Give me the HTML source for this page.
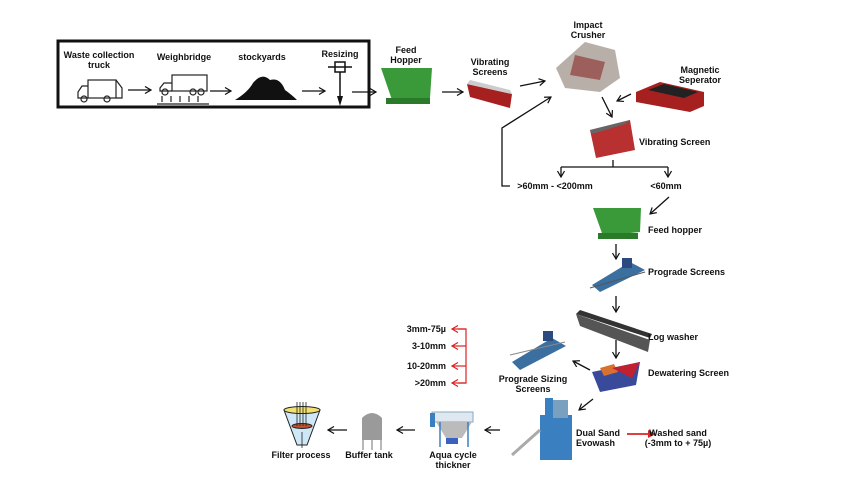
<!DOCTYPE html>
<html><head><meta charset="utf-8"><style>
html,body{margin:0;padding:0;background:#fff;width:850px;height:494px;overflow:hidden}
svg{display:block}
text{font-family:"Liberation Sans",sans-serif;font-weight:bold;font-size:9px;fill:#111}
</style></head><body>
<svg width="850" height="494" viewBox="0 0 850 494" xmlns="http://www.w3.org/2000/svg">
<defs>
<marker id="a" markerWidth="8" markerHeight="8" refX="7" refY="4" orient="auto" markerUnits="userSpaceOnUse"><path d="M1,0.5 L7,4 L1,7.5" fill="none" stroke="#111" stroke-width="1.2"/></marker>
<marker id="r" markerWidth="8" markerHeight="8" refX="7" refY="4" orient="auto" markerUnits="userSpaceOnUse"><path d="M1,0.5 L7,4 L1,7.5" fill="none" stroke="#d22" stroke-width="1.2"/></marker>
<marker id="rf" markerWidth="8" markerHeight="8" refX="7" refY="4" orient="auto" markerUnits="userSpaceOnUse"><path d="M0,0 L8,4 L0,8Z" fill="#d22"/></marker>
</defs>
<rect x="58" y="41" width="311" height="66" fill="none" stroke="#111" stroke-width="3"/>
<text x="99" y="58" text-anchor="middle">Waste collection</text>
<text x="99" y="68" text-anchor="middle">truck</text>
<text x="184" y="60" text-anchor="middle">Weighbridge</text>
<text x="262" y="60" text-anchor="middle">stockyards</text>
<text x="340" y="57" text-anchor="middle">Resizing</text>
<g fill="none" stroke="#222" stroke-width="1.2">
<rect x="88" y="80" width="28" height="18"/><path d="M88,86 h-6 l-4,6 v6 h10"/><circle cx="84" cy="99" r="3"/><circle cx="107" cy="99" r="3"/><path d="M116,80 l6,8 v10 h-6"/>
<rect x="172" y="75" width="35" height="16"/><path d="M172,83 h-8 l-4,5 v3 h12"/><circle cx="165" cy="92" r="3"/><circle cx="193" cy="92" r="3"/><circle cx="201" cy="92" r="3"/>
<path d="M157,104 h52"/>
<path d="M162,96 v6 M171,96 v6 M180,96 v6 M189,96 v6 M198,96 v6"/>
</g>
<path d="M235,100 Q248,92 253,83 Q262,72 270,80 Q280,77 285,90 Q292,95 297,100 Z" fill="#111"/>
<g stroke="#111" stroke-width="1.5" fill="none"><rect x="335" y="62" width="10" height="10"/><path d="M328,67 h24 M340,72 v24"/></g>
<path d="M337,96 h6 l-3,10z" fill="#111"/>
<g stroke="#111" stroke-width="1.3" fill="none">
<path d="M128,90 H151" marker-end="url(#a)"/>
<path d="M210,91 H231" marker-end="url(#a)"/>
<path d="M302,91 H325" marker-end="url(#a)"/>
<path d="M352,92 H376" marker-end="url(#a)"/>
<path d="M442,92 H463" marker-end="url(#a)"/>
<path d="M520,86 L545,81" marker-end="url(#a)"/>
<path d="M631,94 L617,101" marker-end="url(#a)"/>
<path d="M602,97 L612,117" marker-end="url(#a)"/>
<path d="M613,160 V167 M561,167 H668"/>
<path d="M561,167 V177" marker-end="url(#a)"/>
<path d="M668,167 V177" marker-end="url(#a)"/>
<path d="M510,186 H502 V128 L551,97" marker-end="url(#a)"/>
<path d="M669,197 L650,214" marker-end="url(#a)"/>
<path d="M616,244 V259" marker-end="url(#a)"/>
<path d="M616,296 V312" marker-end="url(#a)"/>
<path d="M616,340 V358" marker-end="url(#a)"/>
<path d="M590,370 L573,361" marker-end="url(#a)"/>
<path d="M593,399 L579,410" marker-end="url(#a)"/>
<path d="M500,430 H485" marker-end="url(#a)"/>
<path d="M415,430 H397" marker-end="url(#a)"/>
<path d="M347,430 H328" marker-end="url(#a)"/>
</g>
<path d="M381,68 L432,68 L430,98 L392,100 Z" fill="#3a9a3a"/><path d="M386,98 h44 v6 h-44z" fill="#2a7a2a"/>
<text x="406" y="53" text-anchor="middle">Feed</text><text x="406" y="63" text-anchor="middle">Hopper</text>
<path d="M467,84 L512,94 L510,108 L470,97 Z" fill="#a62020"/><path d="M467,84 L512,94 L510,90 L470,80Z" fill="#ccc"/>
<text x="490" y="65" text-anchor="middle">Vibrating</text><text x="490" y="75" text-anchor="middle">Screens</text>
<path d="M556,68 L585,42 L615,50 L620,78 L600,92 L565,88 Z" fill="#b8b0a8"/><path d="M575,55 L605,62 L600,80 L570,75Z" fill="#8a2a2a" opacity=".6"/>
<text x="588" y="28" text-anchor="middle">Impact</text><text x="588" y="38" text-anchor="middle">Crusher</text>
<path d="M636,92 L660,82 L704,92 L704,106 L690,112 L636,102Z" fill="#a62020"/><path d="M648,90 L664,84 L698,92 L684,98Z" fill="#222"/>
<text x="700" y="73" text-anchor="middle">Magnetic</text><text x="700" y="83" text-anchor="middle">Seperator</text>
<path d="M590,130 L630,120 L635,150 L596,158Z" fill="#b83030"/><path d="M590,130 L630,120 L625,124 L592,134Z" fill="#666"/>
<text x="639" y="145">Vibrating Screen</text>
<text x="555" y="189" text-anchor="middle">&gt;60mm - &lt;200mm</text>
<text x="666" y="189" text-anchor="middle">&lt;60mm</text>
<path d="M593,208 L641,208 L640,232 L603,236 Z" fill="#3a9a3a"/><path d="M598,233 h40 v6 h-40z" fill="#2a7a2a"/>
<text x="648" y="233">Feed hopper</text>
<path d="M592,285 L630,262 L645,270 L600,292Z" fill="#3a6fa0"/><rect x="622" y="258" width="10" height="10" fill="#2a4a80"/><path d="M590,288 L645,272" stroke="#555"/>
<text x="648" y="275">Prograde Screens</text>
<path d="M576,314 L650,340 L648,352 L580,326Z" fill="#555"/><path d="M576,314 L650,338 L652,334 L580,310Z" fill="#333"/>
<text x="648" y="340">Log washer</text>
<path d="M592,372 L640,362 L636,385 L600,392Z" fill="#3a4a9a"/><path d="M600,368 l14,-4 l4,8 l-14,4z" fill="#d87030"/><path d="M612,368 L640,362 L632,378Z" fill="#c02030"/>
<text x="648" y="376">Dewatering Screen</text>
<path d="M512,362 L552,338 L566,346 L520,370Z" fill="#3a6fa0"/><rect x="543" y="331" width="10" height="10" fill="#2a4a80"/><path d="M510,355 L565,342" stroke="#888"/>
<text x="533" y="382" text-anchor="middle">Prograde Sizing</text><text x="533" y="392" text-anchor="middle">Screens</text>
<g stroke="#d22" stroke-width="1.2" fill="none">
<path d="M458,329 H466 V383 H458"/>
<path d="M466,329 H452" marker-end="url(#r)"/><path d="M466,346 H452" marker-end="url(#r)"/><path d="M466,366 H452" marker-end="url(#r)"/><path d="M466,383 H452" marker-end="url(#r)"/>
</g>
<text x="446" y="332" text-anchor="end">3mm-75µ</text>
<text x="446" y="349" text-anchor="end">3-10mm</text>
<text x="446" y="369" text-anchor="end">10-20mm</text>
<text x="446" y="386" text-anchor="end">&gt;20mm</text>
<rect x="545" y="398" width="8" height="20" fill="#3a80c0"/><rect x="540" y="415" width="32" height="45" fill="#3a80c0"/><rect x="553" y="400" width="15" height="18" fill="#7aa0c0"/>
<path d="M512,455 L540,430" stroke="#aaa" stroke-width="3"/>
<text x="576" y="436">Dual Sand</text><text x="576" y="446">Evowash</text>
<path d="M627,434 H655" stroke="#d22" stroke-width="1.8" marker-end="url(#rf)"/>
<text x="678" y="436" text-anchor="middle">Washed sand</text><text x="678" y="446" text-anchor="middle">(-3mm to + 75µ)</text>
<rect x="432" y="412" width="41" height="10" fill="#dfe8f0" stroke="#8ab"/><path d="M436,422 H472 L462,438 H446Z" fill="#bbb"/><rect x="430" y="413" width="5" height="14" fill="#3a80c0"/><path d="M440,422 v25 M468,422 v25" stroke="#3a80c0" stroke-width="1.5"/><rect x="446" y="438" width="12" height="6" fill="#3a60c0"/>
<text x="453" y="458" text-anchor="middle">Aqua cycle</text><text x="453" y="468" text-anchor="middle">thickner</text>
<path d="M362,418 Q372,408 382,418 V440 H362Z" fill="#9a9a9a"/><path d="M363,440 v10 M381,440 v10 M372,440 v10" stroke="#888" stroke-width="1.2"/>
<text x="369" y="458" text-anchor="middle">Buffer tank</text>
<path d="M284,410 H320 L307,445 H297Z" fill="#cfe8f8" stroke="#222"/><ellipse cx="302" cy="410" rx="18" ry="3.5" fill="#f2e070" stroke="#222"/><ellipse cx="302" cy="426" rx="10" ry="2.5" fill="#c05030" stroke="#222"/>
<path d="M297,402 v24 M300,402 v24 M303,402 v24 M306,402 v24 M302,432 v16 M299,445 h6" stroke="#222" stroke-width="0.8"/>
<text x="301" y="458" text-anchor="middle">Filter process</text>
</svg>
</body></html>
